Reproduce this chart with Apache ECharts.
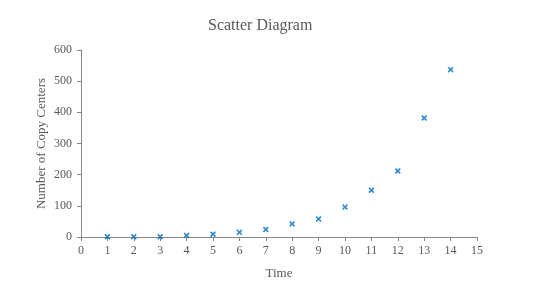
<!DOCTYPE html>
<html><head><meta charset="utf-8">
<script src="https://cdn.jsdelivr.net/npm/echarts@6/dist/echarts.min.js"></script>
<style>html,body{margin:0;padding:0;background:#fff}#c{width:544px;height:289px}</style>
</head><body><div id="c"></div>
<script>
const times = [1,2,3,4,5,6,7,8,9,10,11,12,13,14];
const copyCenters = [1,1,1,5,9,15,24,42,58,96,150,212,382,537];
const xTicks = [0,15,1];
const yTicks = [0,600,100];

const font = '"Liberation Serif","Times New Roman",serif';
const axisCol = '#868686';
const txt = '#595959';
const chart = echarts.init(document.getElementById('c'));
chart.setOption({
  animation:false,
  title:{text:'Scatter Diagram',left:203,top:13,textStyle:{fontFamily:font,fontSize:16,fontWeight:'normal',color:txt}},
  grid:{left:81,right:67,top:50,bottom:52},
  xAxis:{type:'value',min:xTicks[0],max:xTicks[1],interval:xTicks[2],
    name:'Time',nameLocation:'middle',nameGap:30,nameMoveOverlap:false,nameTextStyle:{fontFamily:font,fontSize:13,color:txt},
    axisLine:{lineStyle:{color:axisCol,width:1}},axisTick:{show:true,length:4,lineStyle:{color:axisCol}},
    axisLabel:{fontFamily:font,fontSize:12,color:txt,margin:8},splitLine:{show:false}},
  yAxis:{type:'value',min:yTicks[0],max:yTicks[1],interval:yTicks[2],
    name:'Number of Copy Centers',nameLocation:'middle',nameGap:33,nameMoveOverlap:false,nameRotate:90,nameTextStyle:{fontFamily:font,fontSize:13,color:txt},
    axisLine:{show:true,lineStyle:{color:axisCol,width:1}},axisTick:{show:true,length:4,lineStyle:{color:axisCol}},
    axisLabel:{fontFamily:font,fontSize:12,color:txt,margin:9},splitLine:{show:false}},
  series:[{type:'scatter',data:times.map((t,i)=>[t,copyCenters[i]]),
    symbol:'path://M0,2L2,0L5,3L8,0L10,2L7,5L10,8L8,10L5,7L2,10L0,8L3,5Z',symbolSize:6,
    itemStyle:{color:'#0070C0'}}]
});
</script></body></html>
